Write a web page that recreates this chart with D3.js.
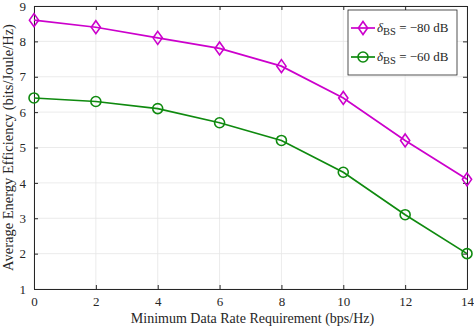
<!DOCTYPE html>
<html>
<head>
<meta charset="utf-8">
<script src="https://cdn.jsdelivr.net/npm/d3@7"></script>
<style>
  body { margin: 0; background: #fff; }
  text { font-family: "Liberation Serif", "DejaVu Serif", serif; fill: #262626; }
</style>
</head>
<body>
<div id="chart"></div>
<script>
const rates = [0, 2, 4, 6, 8, 10, 12, 14];
const ee80 = [8.6, 8.4, 8.1, 7.8, 7.3, 6.4, 5.2, 4.1];
const ee60 = [6.4, 6.3, 6.1, 5.7, 5.2, 4.3, 3.1, 2.0];
const xTicks = [0, 2, 4, 6, 8, 10, 12, 14];
const yTicks = [1, 2, 3, 4, 5, 6, 7, 8, 9];
const seriesNames = ["\u221280 dB", "\u221260 dB"];

const W = 474, H = 327;
const margin = {top: 6, right: 7, bottom: 38, left: 34};
const width = W - margin.left - margin.right;
const height = H - margin.top - margin.bottom;

const svg = d3.select("#chart").append("svg")
    .attr("width", W)
    .attr("height", H);

const g = svg.append("g")
    .attr("transform", `translate(${margin.left},${margin.top})`);

const x = d3.scaleLinear().domain([0, 14]).range([0, width]);
const y = d3.scaleLinear().domain([1, 9]).range([height, 0]);

// grid
g.selectAll(".gx").data(xTicks).enter().append("line")
    .attr("x1", d => x(d)).attr("x2", d => x(d))
    .attr("y1", 0).attr("y2", height)
    .attr("stroke", "#e6e6e6").attr("stroke-width", 0.8);
g.selectAll(".gy").data(yTicks).enter().append("line")
    .attr("y1", d => y(d)).attr("y2", d => y(d))
    .attr("x1", 0).attr("x2", width)
    .attr("stroke", "#e6e6e6").attr("stroke-width", 0.8);

// axes (ticks inside, box)
const axisStyle = sel => {
    sel.select(".domain").attr("stroke", "#262626");
    sel.selectAll(".tick line").attr("stroke", "#262626");
    sel.selectAll("text").style("font-family", "Liberation Serif").style("font-size", "13px").attr("fill", "#262626");
};
g.append("g").attr("transform", `translate(0,${height})`)
    .call(d3.axisBottom(x).tickValues(xTicks).tickSize(-4).tickSizeOuter(0).tickPadding(8))
    .call(axisStyle);
g.append("g")
    .call(d3.axisLeft(y).tickValues(yTicks).tickSize(-4).tickSizeOuter(0).tickPadding(8))
    .call(axisStyle);
g.append("g")
    .call(d3.axisTop(x).tickValues(xTicks).tickSize(-4).tickSizeOuter(0).tickFormat(""))
    .call(axisStyle);
g.append("g").attr("transform", `translate(${width},0)`)
    .call(d3.axisRight(y).tickValues(yTicks).tickSize(-4).tickSizeOuter(0).tickFormat(""))
    .call(axisStyle);

const line = d3.line().x((d, i) => x(rates[i])).y(d => y(d));

const purple = "#cc00cc", green = "#0f8a0f";

g.append("path").datum(ee80).attr("d", line)
    .attr("fill", "none").attr("stroke", purple).attr("stroke-width", 1.7);
g.append("path").datum(ee60).attr("d", line)
    .attr("fill", "none").attr("stroke", green).attr("stroke-width", 1.7);

// matlab-like diamond marker
const diamondPath = "M0,-6.5L4.6,0L0,6.5L-4.6,0Z";
g.selectAll(".m80").data(ee80).enter().append("path")
    .attr("d", diamondPath)
    .attr("transform", (d, i) => `translate(${x(rates[i])},${y(d)})`)
    .attr("fill", "none").attr("stroke", purple).attr("stroke-width", 1.6);
g.selectAll(".m60").data(ee60).enter().append("circle")
    .attr("cx", (d, i) => x(rates[i])).attr("cy", d => y(d)).attr("r", 5)
    .attr("fill", "none").attr("stroke", green).attr("stroke-width", 1.6);

// labels
svg.append("text")
    .attr("x", margin.left + width / 2 + 2).attr("y", 323)
    .attr("text-anchor", "middle").style("font-size", "14px")
    .text("Minimum Data Rate Requirement (bps/Hz)");
svg.append("text")
    .attr("transform", `translate(13,${margin.top + height / 2}) rotate(-90)`)
    .attr("text-anchor", "middle").style("font-size", "14.5px")
    .text("Average Energy Efficiency (bits/Joule/Hz)");

// legend
const lg = svg.append("g").attr("transform", "translate(348,10)");
lg.append("rect").attr("width", 109).attr("height", 65)
    .attr("fill", "#fff").attr("stroke", "#262626").attr("stroke-width", 0.8);
const colors = [purple, green];
seriesNames.forEach((name, i) => {
    const yy = 18 + i * 29;
    lg.append("line").attr("x1", 3).attr("x2", 27).attr("y1", yy).attr("y2", yy)
        .attr("stroke", colors[i]).attr("stroke-width", 1.7);
    if (i === 0) {
        lg.append("path").attr("d", diamondPath)
            .attr("transform", `translate(15,${yy})`)
            .attr("fill", "none").attr("stroke", colors[i]).attr("stroke-width", 1.6);
    } else {
        lg.append("circle").attr("cx", 15).attr("cy", yy).attr("r", 5)
            .attr("fill", "none").attr("stroke", colors[i]).attr("stroke-width", 1.6);
    }
    const t = lg.append("text").attr("x", 29).attr("y", yy + 4).style("font-size", "13px");
    t.append("tspan").style("font-style", "italic").text("\u03b4");
    t.append("tspan").attr("dy", 3).style("font-size", "10.5px").text("BS");
    t.append("tspan").attr("dy", -3).text(" = " + name);
});
</script>
</body>
</html>
